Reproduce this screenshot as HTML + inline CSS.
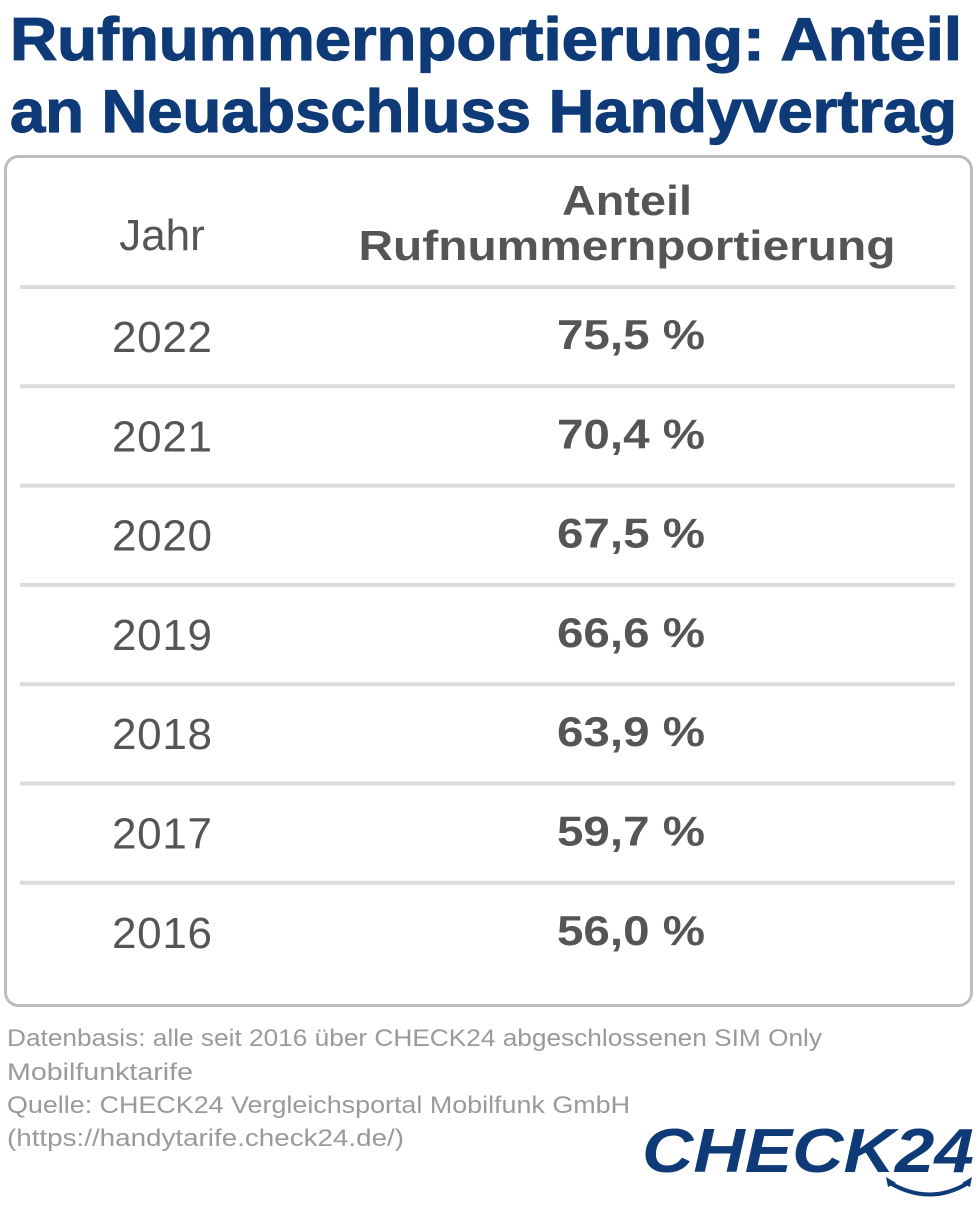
<!DOCTYPE html>
<html><head><meta charset="utf-8"><style>
html,body{margin:0;padding:0;background:#fff;}
svg{display:block;font-family:"Liberation Sans",sans-serif;}
</style></head><body>
<svg id="chart" width="976" height="1209" viewBox="0 0 976 1209" xmlns="http://www.w3.org/2000/svg">
<g fill="#0f3a78" font-weight="bold" font-size="60" stroke="#0f3a78" stroke-width="1.2">
<text x="10" y="60" textLength="952" lengthAdjust="spacingAndGlyphs">Rufnummernportierung: Anteil</text>
<text x="10" y="132" textLength="947" lengthAdjust="spacingAndGlyphs">an Neuabschluss Handyvertrag</text>
</g>
<rect x="5.5" y="156.5" width="966" height="849" rx="13" fill="#fff" stroke="#bdbdbd" stroke-width="3"/>
<g fill="#555">
<text x="162" y="250" font-size="44" text-anchor="middle">Jahr</text>
<text x="627" y="215" font-size="42" font-weight="bold" text-anchor="middle" textLength="130" lengthAdjust="spacingAndGlyphs">Anteil</text>
<text x="627" y="260" font-size="42" font-weight="bold" text-anchor="middle" textLength="537" lengthAdjust="spacingAndGlyphs">Rufnummernportierung</text>
</g>
<g id="rows"></g>
<g fill="#9a9a9a" font-size="24">
<text x="7" y="1046" textLength="815" lengthAdjust="spacingAndGlyphs">Datenbasis: alle seit 2016 über CHECK24 abgeschlossenen SIM Only</text>
<text x="7" y="1080" textLength="186" lengthAdjust="spacingAndGlyphs">Mobilfunktarife</text>
<text x="7" y="1113" textLength="623" lengthAdjust="spacingAndGlyphs">Quelle: CHECK24 Vergleichsportal Mobilfunk GmbH</text>
<text x="7" y="1146" textLength="397" lengthAdjust="spacingAndGlyphs">(https://handytarife.check24.de/)</text>
</g>
<g fill="#0f3a78">
<text x="642" y="1172" font-size="62" font-weight="bold" font-style="italic" textLength="332" lengthAdjust="spacingAndGlyphs">CHECK24</text>
<path d="M890 1183 Q930 1206 968 1183" fill="none" stroke="#0f3a78" stroke-width="4"/>
<path d="M886 1177 l2 10 l8 -4 z M972 1177 l-2 10 l-8 -4 z"/>
</g>
</svg>
<script>
const years = ["2022","2021","2020","2019","2018","2017","2016"];
const shares = [75.5, 70.4, 67.5, 66.6, 63.9, 59.7, 56.0];
const rowsG = document.getElementById('rows');
const NS = "http://www.w3.org/2000/svg";
const rowTop = 287, rowH = 99.3;
years.forEach((y, i) => {
  const top = rowTop + i * rowH;
  const line = document.createElementNS(NS, 'line');
  
  
  line.setAttribute('x1', 20); line.setAttribute('x2', 955);
  line.setAttribute('y1', top); line.setAttribute('y2', top);
  line.setAttribute('stroke', '#dcdcdc'); line.setAttribute('stroke-width', 4);
  rowsG.appendChild(line);
  const ty = document.createElementNS(NS, 'text');
  
  
  ty.setAttribute('x', 162); ty.setAttribute('y', top + 65);
  ty.setAttribute('font-size', 44); ty.setAttribute('fill', '#555');
  ty.setAttribute('text-anchor', 'middle');
  ty.setAttribute('textLength', 100);
  ty.textContent = y;
  rowsG.appendChild(ty);
  const tv = document.createElementNS(NS, 'text');
  
  
  tv.setAttribute('x', 631); tv.setAttribute('y', top + 62);
  tv.setAttribute('font-size', 42); tv.setAttribute('font-weight', 'bold');
  tv.setAttribute('fill', '#555'); tv.setAttribute('text-anchor', 'middle');
  tv.setAttribute('textLength', 148);
  tv.setAttribute('lengthAdjust', 'spacingAndGlyphs');
  tv.textContent = shares[i].toFixed(1).replace('.', ',') + ' %';
  rowsG.appendChild(tv);
});
</script>
</body></html>
